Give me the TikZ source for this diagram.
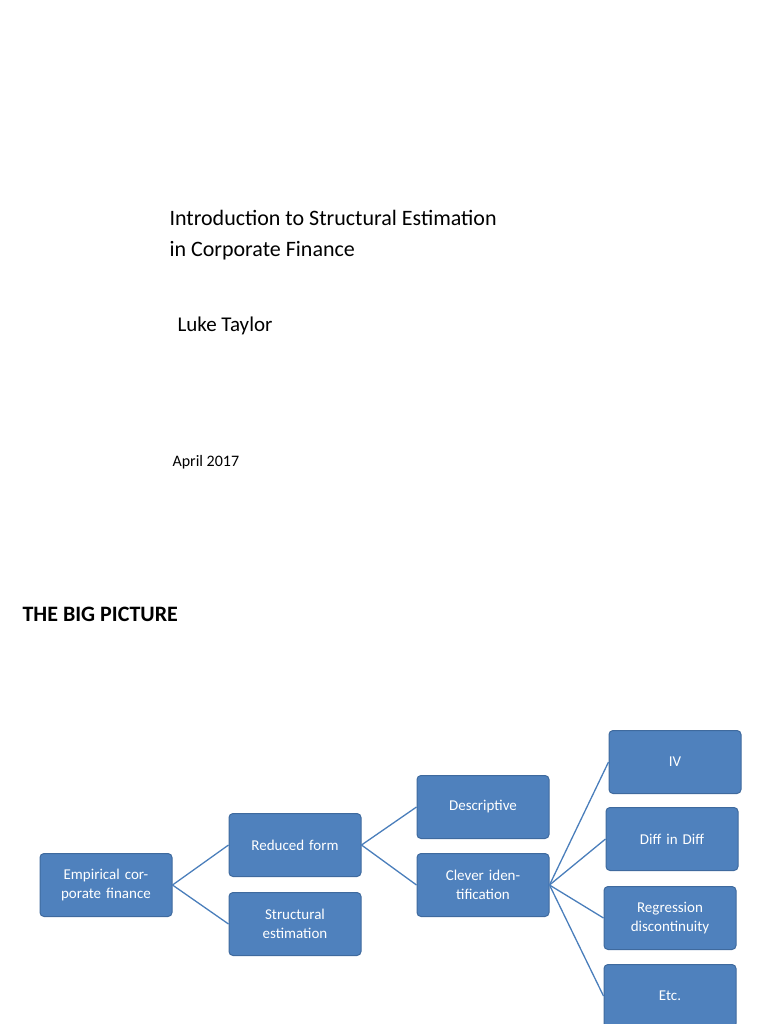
\documentclass[tikz,border=0pt]{standalone}
\usepackage{fontspec}
\setmainfont{Carlito}
\begin{document}
\begin{tikzpicture}[x=1pt,y=-1pt,
  bx/.style={draw=bdr,fill=boxc,rounded corners=4pt,line width=1pt,text=white,
    minimum width=132pt,minimum height=63pt,align=center,text width=120pt,
    font=\fontsize{15}{19.5}\selectfont,inner sep=0pt},
  ln/.style={draw=lnc,line width=1.3pt}]
\definecolor{boxc}{HTML}{4F81BD}
\definecolor{bdr}{HTML}{3F6A9E}
\definecolor{lnc}{HTML}{4A7EBB}
\useasboundingbox (0,0) rectangle (768,1024);
\clip (0,0) rectangle (768,1024);
\node[anchor=west,align=left,font=\fontsize{22}{31}\selectfont] (title) at (166,235) {Introduction to Structural Estimation\\in Corporate Finance};
\node[anchor=west,font=\fontsize{21}{25}\selectfont] (author) at (174,326) {Luke Taylor};
\node[anchor=west,font=\fontsize{16}{20}\selectfont] (date) at (169,462) {April 2017};
\node[anchor=west,font=\bfseries\fontsize{22}{26}\selectfont] (big) at (19,614) {THE BIG PICTURE};
\node[bx] (emp) at (106,885) {Empirical corporate finance};
\node[bx] (red) at (295,845) {Reduced form};
\node[bx] (str) at (295,924) {Structural estimation};
\node[bx] (des) at (483,807) {Descriptive};
\node[bx] (clv) at (483,885) {Clever identification};
\node[bx] (iv) at (675,762) {IV};
\node[bx] (did) at (672,839) {Diff in Diff};
\node[bx] (reg) at (670,918) {Regression discontinuity};
\node[bx] (etc) at (670,996) {Etc.};
\draw[ln] (emp.east) -- (red.west);
\draw[ln] (emp.east) -- (str.west);
\draw[ln] (red.east) -- (des.west);
\draw[ln] (red.east) -- (clv.west);
\foreach \t in {iv,did,reg,etc} \draw[ln] (clv.east) -- (\t.west);
\end{tikzpicture}
\end{document}
